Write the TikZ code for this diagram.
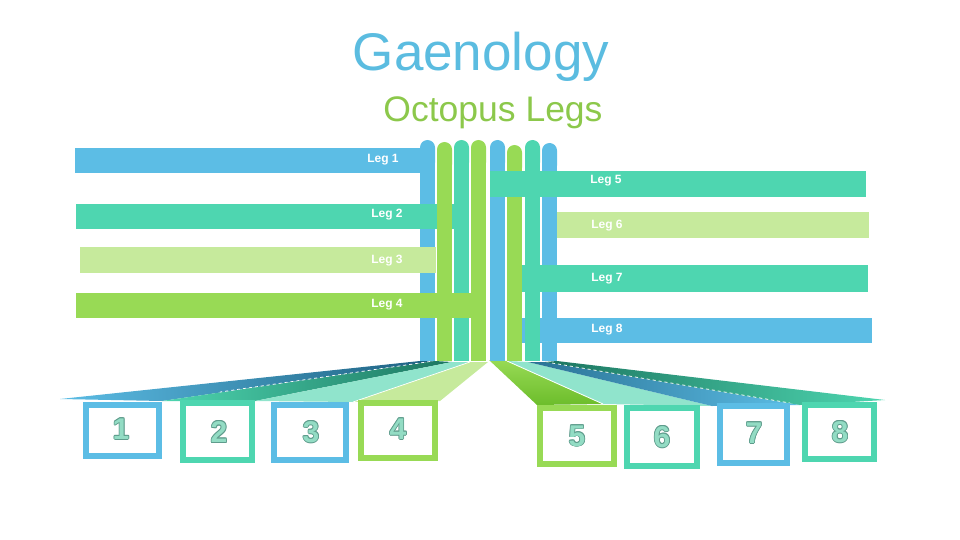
\documentclass[tikz,border=0pt]{standalone}
\usepackage{fontspec}
\setmainfont{Liberation Sans}
\definecolor{cblue}{HTML}{5CBDE5}
\definecolor{cteal}{HTML}{4ED6B0}
\definecolor{clgreen}{HTML}{C6EA9C}
\definecolor{cgreen}{HTML}{98DA55}
\definecolor{caqua}{HTML}{90E4CC}
\definecolor{cdgreen}{HTML}{6CBD2B}
\definecolor{cdblue}{HTML}{1D5F80}
\definecolor{cdteal}{HTML}{1C7560}
\definecolor{ctitle}{HTML}{5BBCE0}
\definecolor{csub}{HTML}{8CC84B}
\definecolor{dgfill}{HTML}{93DCC4}
\definecolor{dgline}{HTML}{5E9C8C}
\tikzset{
  leglabel/.style={text=white, font=\bfseries\fontsize{12}{14}\selectfont, inner sep=0pt},
  digit/.style={font=\bfseries\fontsize{30}{32}\selectfont, inner sep=0pt},
  numbox/.style={draw=#1, line width=6pt, fill=white, inner sep=0pt},
}
\newcommand\vbar[3]{%
  \fill[#3, rounded corners=7.5pt] (#1,#2) rectangle ++(15,30);
  \fill[#3] (#1,#2+15) rectangle (#1+15,361);}
\newcommand\outdigit[3]{%
  \foreach \dx/\dy in {0.8/0,-0.8/0,0/0.8,0/-0.8,0.6/0.6,-0.6/0.6,0.6/-0.6,-0.6/-0.6}{%
    \node[digit,text=dgline] at ([shift={(\dx,\dy)}]#2) {#3};}
  \node[digit,text=dgfill] (#1) at (#2) {#3};}
\begin{document}
\begin{tikzpicture}[x=1pt,y=-1pt]
\useasboundingbox (0,0) rectangle (960,540);
% titles
\node[text=ctitle, font=\fontsize{53}{60}\selectfont, inner sep=0pt] (title) at (481,57) {Gaenology};
\node[text=csub, font=\fontsize{35.5}{40}\selectfont, inner sep=0pt] (sub) at (493,113) {Octopus Legs};
% left fan
\shade[left color=cblue, right color=cdblue] (60,399) -- (420,361) -- (435,361) -- (162,401) -- cycle;
\shade[left color=cteal, right color=cdteal] (435,361) -- (452,362) -- (255,401) -- (162,401) -- cycle;
\fill[caqua] (452,362) -- (470,362) -- (353,402) -- (255,401) -- cycle;
\fill[clgreen] (470,362) -- (488,362) -- (440,401) -- (353,402) -- cycle;
\draw[white, dashed, line width=0.7pt] (430,361.5) -- (220,392);
\draw[white, line width=0.7pt] (470,362) -- (353,402);
% right fan
\shade[top color=cgreen, bottom color=cdgreen] (489,360) -- (507,361) -- (603,404) -- (537,405) -- cycle;
\fill[caqua] (507,361) -- (528,362) -- (712,406) -- (603,404) -- cycle;
\draw[white, line width=0.8pt] (507,361) -- (603,404);
\shade[left color=cdblue!80!cblue, right color=cblue] (528,362) -- (545,362) -- (800,405) -- (712,406) -- cycle;
\shade[left color=cdteal, right color=cteal] (545,362) -- (557,361) -- (885,400) -- (800,405) -- cycle;
\draw[white, dashed, line width=0.7pt] (552,363) -- (790,403);
% vertical bars (lower layer)
\vbar{420}{140}{cblue}
\vbar{454}{140}{cteal}
\vbar{471}{140}{cgreen}
\vbar{490}{140}{cblue}
\vbar{507}{145}{cgreen}
\vbar{542}{143}{cblue}
% horizontal legs
\fill[cblue] (75,148) rectangle (420,173);
\fill[cteal] (76,204) rectangle (455,229);
\fill[clgreen] (80,247) rectangle (436,273);
\fill[cgreen] (76,293) rectangle (486,318);
\fill[cteal] (490,171) rectangle (866,197);
\fill[clgreen] (557,212) rectangle (869,238);
\fill[cteal] (522,265) rectangle (868,292);
\fill[cblue] (522,318) rectangle (872,343);
% vertical bars (upper layer)
\vbar{437}{142}{cgreen}
\vbar{525}{140}{cteal}
% leg labels
\node[leglabel] (l1) at (383,160) {Leg 1};
\node[leglabel] (l2) at (387,215) {Leg 2};
\node[leglabel] (l3) at (387,261) {Leg 3};
\node[leglabel] (l4) at (387,305) {Leg 4};
\node[leglabel] (l5) at (606,181) {Leg 5};
\node[leglabel] (l6) at (607,226) {Leg 6};
\node[leglabel] (l7) at (607,279) {Leg 7};
\node[leglabel] (l8) at (607,330) {Leg 8};
% number boxes
\node[numbox=cblue, minimum width=73pt, minimum height=51pt] (b1) at (122.5,430.5) {};
\node[numbox=cteal, minimum width=69pt, minimum height=57pt] (b2) at (217.5,431.5) {};
\node[numbox=cblue, minimum width=72pt, minimum height=55pt] (b3) at (310,432.5) {};
\node[numbox=cgreen, minimum width=74pt, minimum height=55pt] (b4) at (398,430.5) {};
\node[numbox=cgreen, minimum width=74pt, minimum height=56pt] (b5) at (577,436) {};
\node[numbox=cteal, minimum width=70pt, minimum height=58pt] (b6) at (662,437) {};
\node[numbox=cblue, minimum width=67pt, minimum height=57pt] (b7) at (753.5,434.5) {};
\node[numbox=cteal, minimum width=69pt, minimum height=54pt] (b8) at (839.5,432) {};
\outdigit{d1}{121,429}{1}
\outdigit{d2}{219,432}{2}
\outdigit{d3}{311,432}{3}
\outdigit{d4}{398,429}{4}
\outdigit{d5}{577,436}{5}
\outdigit{d6}{662,437}{6}
\outdigit{d7}{754,433}{7}
\outdigit{d8}{840,432}{8}
\end{tikzpicture}
\end{document}
